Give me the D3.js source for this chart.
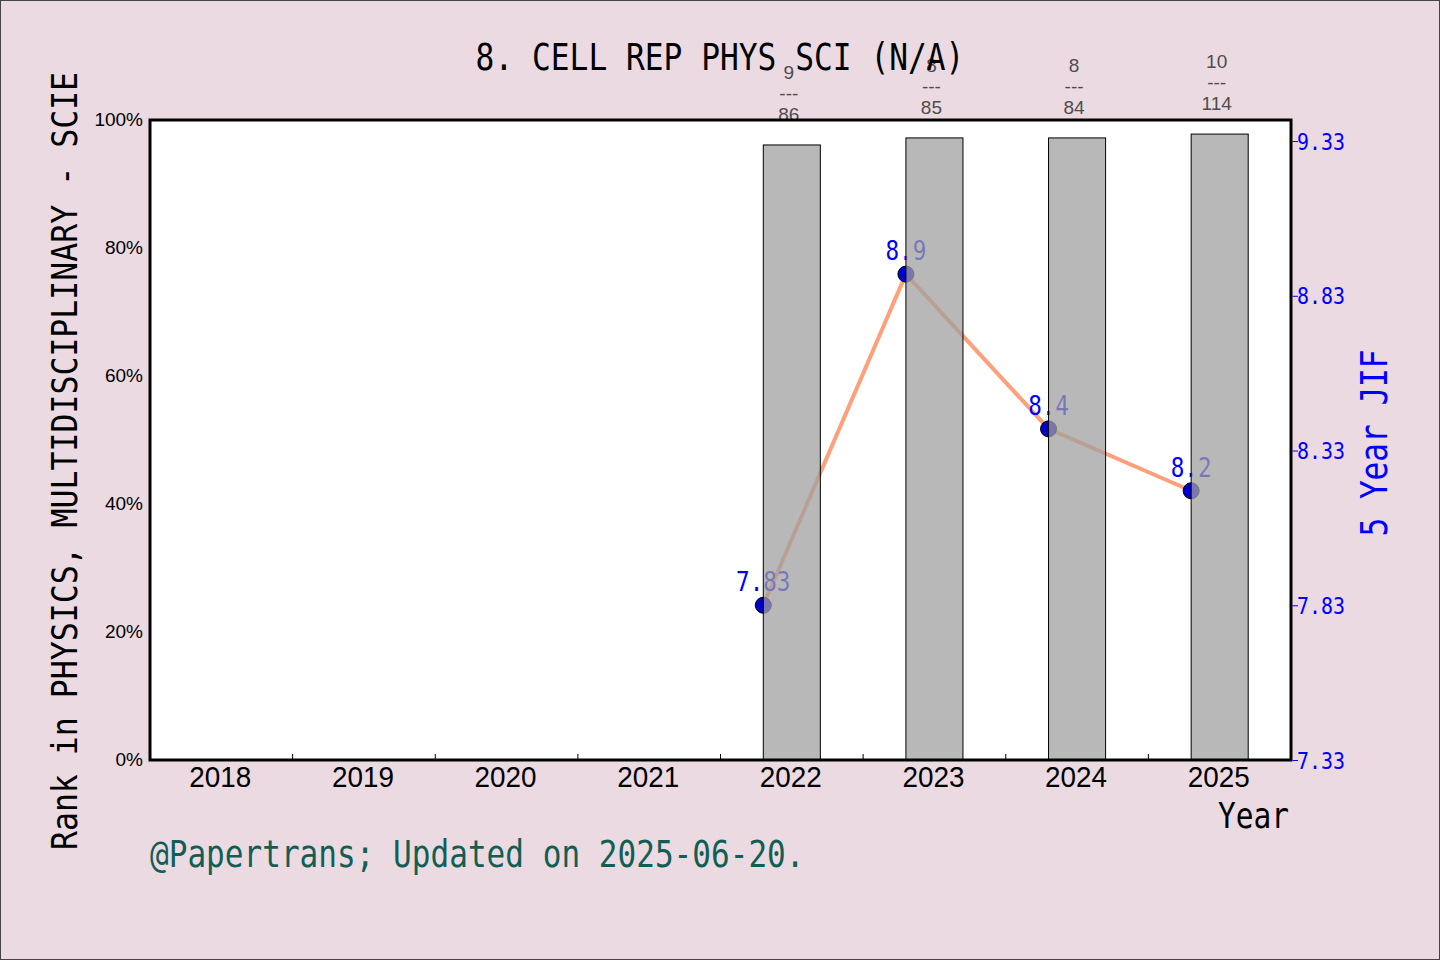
<!DOCTYPE html>
<html><head><meta charset="utf-8">
<script src="https://cdn.jsdelivr.net/npm/d3@7"></script>
<style>html,body{margin:0;padding:0;background:#ebdae2;}svg{display:block;}</style>
</head><body>
<script>
const years = [2018, 2019, 2020, 2021, 2022, 2023, 2024, 2025];
const rankPct = [null, null, null, null, 96.1, 97.2, 97.2, 97.8];
const rankNum = [null, null, null, null, 9, 8, 8, 10];
const rankTotal = [null, null, null, null, 86, 85, 84, 114];
const jif = [null, null, null, null, 7.83, 8.9, 8.4, 8.2];
const jifTicks = [7.33, 7.83, 8.33, 8.83, 9.33];
const pctTicks = [0, 20, 40, 60, 80, 100];
const titleText = "8. CELL REP PHYS SCI (N/A)";
const footerText = "@Papertrans; Updated on 2025-06-20.";
const leftLabel = "Rank in PHYSICS, MULTIDISCIPLINARY - SCIE";
const rightLabel = "5 Year JIF";

const W = 1440, H = 960;
const m = {l: 150, r: 1291, t: 120, b: 760};
const mono = "'DejaVu Sans Mono', 'Liberation Mono', monospace";
const sans = "'Liberation Sans', Arial, sans-serif";
const cw = 18.8;

const svg = d3.select("body").append("svg").attr("width", W).attr("height", H);
svg.append("rect").attr("x", 0.5).attr("y", 0.5).attr("width", W - 1).attr("height", H - 1)
  .attr("fill", "#ebdae2").attr("stroke", "#444").attr("stroke-width", 1);
svg.append("rect").attr("x", m.l).attr("y", m.t).attr("width", m.r - m.l).attr("height", m.b - m.t).attr("fill", "#fff");

const x = d3.scaleBand().domain(years).range([m.l, m.r]).padding(0);
const yL = d3.scaleLinear().domain([0, 100]).range([m.b, m.t]);
const yR = d3.scaleLinear().domain([7.33, 9.398]).range([m.b, m.t]);
const bw = x.bandwidth();
const cx = d => x(d) + bw / 2;

// line & points
const pts = years.map((yr, i) => ({yr, v: jif[i]})).filter(d => d.v != null);
svg.append("path").datum(pts)
  .attr("d", d3.line().x(d => cx(d.yr) - 0.2 * bw).y(d => yR(d.v)))
  .attr("fill", "none").attr("stroke", "#ffa07a").attr("stroke-width", 4);
svg.selectAll("circle.p").data(pts).join("circle")
  .attr("cx", d => cx(d.yr) - 0.2 * bw).attr("cy", d => yR(d.v)).attr("r", 8)
  .attr("fill", "#0000cd").attr("stroke", "#000").attr("stroke-width", 1);
svg.selectAll("text.pl").data(pts).join("text")
  .attr("x", d => cx(d.yr) - 0.2 * bw).attr("y", d => yR(d.v) - 14)
  .attr("text-anchor", "middle").attr("font-family", mono).attr("font-size", 26)
  .attr("fill", "#0000ff")
  .attr("textLength", d => String(d.v).length * 13.6).attr("lengthAdjust", "spacingAndGlyphs")
  .text(d => String(d.v));

// bars
const bars = years.map((yr, i) => ({yr, v: rankPct[i], n: rankNum[i], t: rankTotal[i]})).filter(d => d.v != null);
svg.selectAll("rect.bar").data(bars).join("rect")
  .attr("x", d => cx(d.yr) - 0.2 * bw).attr("width", 0.4 * bw)
  .attr("y", d => yL(d.v)).attr("height", d => m.b - yL(d.v))
  .attr("fill", "rgba(160,160,160,0.75)").attr("stroke", "#000").attr("stroke-width", 1);
const bl = svg.selectAll("g.bl").data(bars).join("g");
[[d => d.n, 66], [d => "---", 45], [d => d.t, 24]].forEach(([f, off]) => {
  bl.append("text").attr("x", d => cx(d.yr) - 3).attr("y", d => yL(d.v) - off)
    .attr("text-anchor", "middle").attr("font-family", sans).attr("font-size", 19)
    .attr("fill", "#4d4d4d").text(f);
});

// frame
svg.append("rect").attr("x", m.l).attr("y", m.t).attr("width", m.r - m.l).attr("height", m.b - m.t)
  .attr("fill", "none").attr("stroke", "#000").attr("stroke-width", 3);

// bottom minor ticks at band boundaries
svg.selectAll("line.mt").data(years.slice(1)).join("line")
  .attr("x1", d => x(d)).attr("x2", d => x(d)).attr("y1", m.b).attr("y2", m.b - 6)
  .attr("stroke", "#000").attr("stroke-width", 1);

// x labels
svg.selectAll("text.xl").data(years).join("text")
  .attr("x", d => cx(d) - 1).attr("y", m.b + 27).attr("text-anchor", "middle")
  .attr("font-family", sans).attr("font-size", 30).attr("fill", "#000")
  .attr("textLength", 62).attr("lengthAdjust", "spacingAndGlyphs").text(d => d);

// left axis labels
svg.selectAll("text.yl").data(pctTicks).join("text")
  .attr("x", m.l - 7).attr("y", d => yL(d) + 6).attr("text-anchor", "end")
  .attr("font-family", sans).attr("font-size", 19).attr("fill", "#000").text(d => d + "%");

// right axis
const ra = svg.append("g").attr("transform", `translate(${m.r},0)`)
  .call(d3.axisRight(yR).tickValues(jifTicks).tickSize(6).tickPadding(0).tickFormat(d => d.toFixed(2)));
ra.select(".domain").remove();
ra.selectAll(".tick line").attr("stroke", "#0000ff").attr("x1", 1.5).attr("x2", 7);
ra.selectAll(".tick text").attr("fill", "#0000ff").attr("font-family", mono).attr("font-size", 23)
  .attr("x", 6).attr("dy", "0.35em").attr("textLength", 48).attr("lengthAdjust", "spacingAndGlyphs");

// titles
svg.append("text").attr("x", 720).attr("y", 70).attr("text-anchor", "middle")
  .attr("font-family", mono).attr("font-size", 37).attr("fill", "#000")
  .attr("textLength", titleText.length * cw).attr("lengthAdjust", "spacingAndGlyphs").text(titleText);
svg.append("text").attr("x", 150).attr("y", 867).attr("text-anchor", "start")
  .attr("font-family", mono).attr("font-size", 37).attr("fill", "#115e54")
  .attr("textLength", footerText.length * 18.7).attr("lengthAdjust", "spacingAndGlyphs").text(footerText);
svg.append("text").attr("transform", "translate(77,461) rotate(-90)").attr("text-anchor", "middle")
  .attr("font-family", mono).attr("font-size", 36).attr("fill", "#000")
  .attr("textLength", leftLabel.length * 18.98).attr("lengthAdjust", "spacingAndGlyphs").text(leftLabel);
svg.append("text").attr("transform", "translate(1387,443) rotate(-90)").attr("text-anchor", "middle")
  .attr("font-family", mono).attr("font-size", 37).attr("fill", "#0000ff")
  .attr("textLength", 187).attr("lengthAdjust", "spacingAndGlyphs").text(rightLabel);
svg.append("text").attr("x", 1289).attr("y", 828).attr("text-anchor", "end")
  .attr("font-family", mono).attr("font-size", 36).attr("fill", "#000")
  .attr("textLength", 71).attr("lengthAdjust", "spacingAndGlyphs").text("Year");
</script>
</body></html>
